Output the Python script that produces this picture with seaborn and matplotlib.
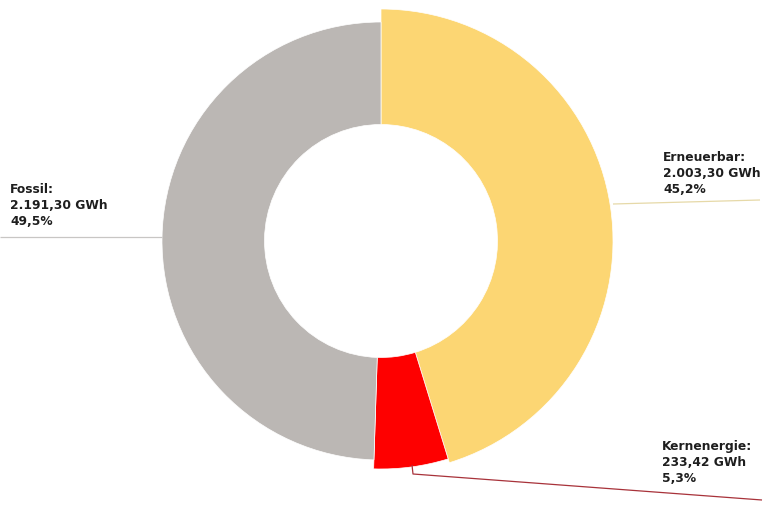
import matplotlib
matplotlib.use("Agg")
import matplotlib.pyplot as plt
import seaborn as sns

# data
categories = ["Erneuerbar", "Kernenergie", "Fossil"]
values_gwh = [2003.30, 233.42, 2191.30]
colors = ["#FCD673", "#FE0000", "#BBB7B4"]
line_colors = ["#E6D9A8", "#A8323A", "#C8C6C4"]

sns.set_theme(style="white")
plt.rcParams["font.family"] = ["DejaVu Sans"]


def de_num(v, dec=2):
    s = f"{v:,.{dec}f}"
    return s.replace(",", "X").replace(".", ",").replace("X", ".")


W, H = 768, 513
fig = plt.figure(figsize=(W / 100, H / 100), dpi=100)
ax = fig.add_axes([0, 0, 1, 1])

cx, cy = 381, H - 241
inner = 116.5
outer = [232, 228, 219]

wedges, _ = ax.pie(values_gwh, colors=colors, startangle=90, counterclock=False,
                   center=(cx, cy), radius=232,
                   wedgeprops=dict(width=232 - inner, edgecolor="white", linewidth=0.5))
for w, r in zip(wedges, outer):
    w.set_radius(r)
    w.set_width(r - inner)

ax.set_xlim(0, W)
ax.set_ylim(0, H)
ax.set_aspect("equal")
ax.axis("off")

total = sum(values_gwh)
labels = [f"{c}:\n{de_num(v)} GWh\n{de_num(v / total * 100, 1)}%"
          for c, v in zip(categories, values_gwh)]

# leader lines (pixel coords from top)
leaders = [
    [(613, 204), (760, 200)],
    [(412, 465), (413, 474), (762, 500)],
    [(162, 237), (0, 237)],
]
text_pos = [(663, 151), (662, 440), (10, 183)]

for lab, pts, lc, (tx, ty) in zip(labels, leaders, line_colors, text_pos):
    ax.plot([p[0] for p in pts], [H - p[1] for p in pts], color=lc, lw=0.9,
            solid_capstyle="butt")
    ax.text(tx, H - ty, lab, ha="left", va="top", fontsize=8.8,
            fontweight="bold", color="#1e1e1e", linespacing=1.3)

fig.savefig("out.png", dpi=100, facecolor="white")
